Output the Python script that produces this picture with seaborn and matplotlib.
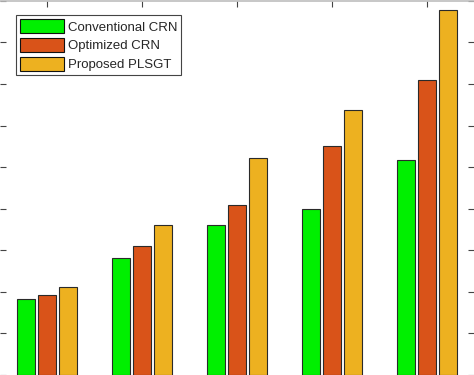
import numpy as np
import pandas as pd
import matplotlib
matplotlib.use("Agg")
import matplotlib.pyplot as plt
import seaborn as sns

# values (y axis in tick units, 0..9)
groups = ["1", "2", "3", "4", "5"]
methods = ["Conventional CRN", "Optimized CRN", "Proposed PLSGT"]
conventional = [1.82, 2.81, 3.60, 4.00, 5.18]
optimized = [1.92, 3.10, 4.10, 5.50, 7.10]
proposed = [2.11, 3.60, 5.21, 6.38, 8.78]
colors = ["#00F000", "#D95319", "#EDB120"]

df = pd.DataFrame({
    "group": groups * 3,
    "method": np.repeat(methods, len(groups)),
    "value": conventional + optimized + proposed,
})

sns.set_style("white")
plt.rcParams['font.family'] = ['Liberation Sans', 'DejaVu Sans']

fig = plt.figure(figsize=(4.74, 3.75), dpi=100)
ax = fig.add_axes([0, 0, 1, 0.998])

sns.barplot(data=df, x="group", y="value", hue="method", palette=colors,
            saturation=1, width=0.663, gap=0.14, edgecolor="#2a2a2a",
            linewidth=0.8, errorbar=None, ax=ax)

ax.set_xlim(-0.5, 4.5)
ax.set_ylim(0, 9)
ax.set_yticks(np.arange(0, 10, 1))
ax.set_xticks(range(len(groups)))
ax.set_xticklabels([])
ax.set_yticklabels([])
ax.set_xlabel("")
ax.set_ylabel("")
ax.tick_params(axis="both", which="both", direction="in", length=4, width=0.8,
               color="#444444", top=True, bottom=True, left=True, right=True,
               labelbottom=False, labelleft=False)

for side in ["left", "right", "bottom"]:
    ax.spines[side].set_visible(False)
ax.spines["top"].set_color("#bdbdbd")
ax.spines["top"].set_linewidth(1.2)

leg = ax.legend(loc="upper left", bbox_to_anchor=(0.034, 0.962), borderaxespad=0,
                fontsize=9.5, handlelength=3.3, handleheight=1.3,
                labelspacing=0.32, handletextpad=0.3, borderpad=0.3,
                fancybox=False, framealpha=1)
leg.get_frame().set_edgecolor("#444444")
leg.get_frame().set_linewidth(0.8)
for h in leg.legend_handles:
    h.set_edgecolor("#111111")
    h.set_linewidth(0.8)

plt.savefig("out.png", dpi=100)
